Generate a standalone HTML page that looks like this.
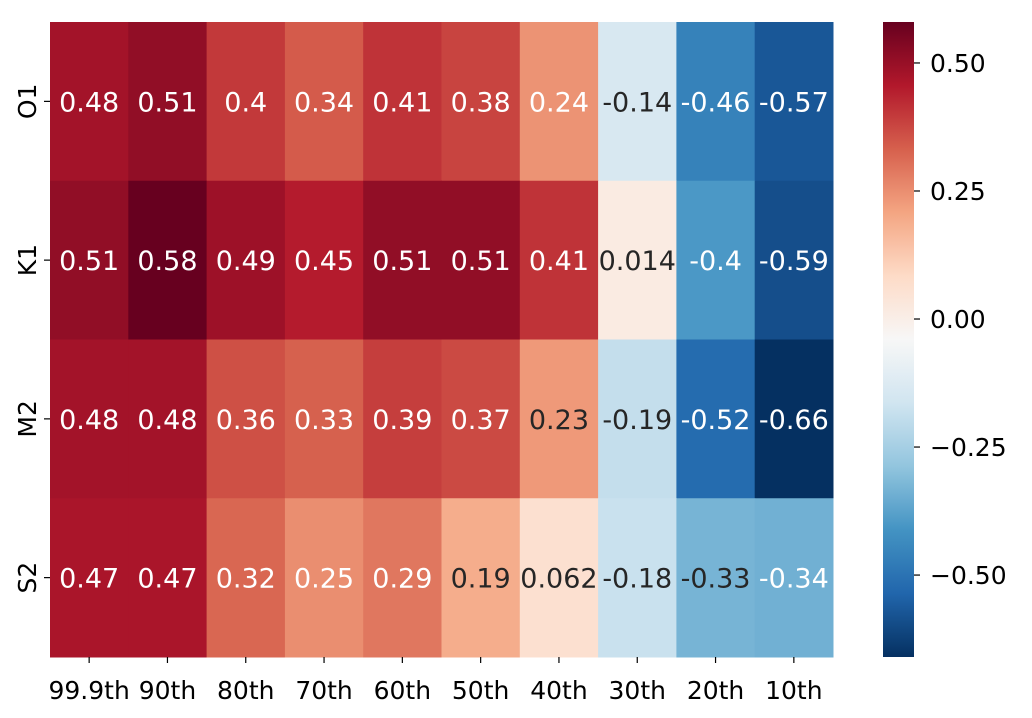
<!DOCTYPE html>
<html><head><meta charset="utf-8"><style>
body{margin:0;background:#fff;}
svg{display:block;font-family:"DejaVu Sans","Liberation Sans",sans-serif;}
</style></head><body>
<svg id="chart" width="1032" height="718" viewBox="0 0 1032 718" xmlns="http://www.w3.org/2000/svg">
<defs><linearGradient id="cbg" x1="0" y1="1" x2="0" y2="0"></linearGradient></defs>
<g id="cells"></g>
<g id="xticks"></g>
<g id="yticks"></g>
<g id="cbar"></g>
</svg>
<script>
const rowLabels = ["O1","K1","M2","S2"];
const colLabels = ["99.9th","90th","80th","70th","60th","50th","40th","30th","20th","10th"];
const rowO1 = [0.48,0.51,0.4,0.34,0.41,0.38,0.24,-0.14,-0.46,-0.57];
const rowK1 = [0.51,0.58,0.49,0.45,0.51,0.51,0.41,0.014,-0.4,-0.59];
const rowM2 = [0.48,0.48,0.36,0.33,0.39,0.37,0.23,-0.19,-0.52,-0.66];
const rowS2 = [0.47,0.47,0.32,0.25,0.29,0.19,0.062,-0.18,-0.33,-0.34];
const cbTicks = [0.5,0.25,0,-0.25,-0.5];
const cbTickLabels = ["0.50","0.25","0.00","\u22120.25","\u22120.50"];
const vmin = -0.66, vmax = 0.58;
const values = [rowO1,rowK1,rowM2,rowS2];

const stops = ["#053061","#2166ac","#4393c3","#92c5de","#d1e5f0","#f7f7f7","#fddbc7","#f4a582","#d6604d","#b2182b","#67001f"];
function hex(h){return [1,3,5].map(i=>parseInt(h.substr(i,2),16));}
function cmap(t){t=Math.max(0,Math.min(1,t));const p=t*10;const i=Math.min(9,Math.floor(p));const f=p-i;
 const a=hex(stops[i]),b=hex(stops[i+1]);return a.map((v,k)=>Math.round(v+(b[k]-v)*f));}
function colorOf(v){return cmap((v-vmin)/(vmax-vmin));}
function rgb(c){return `rgb(${c[0]},${c[1]},${c[2]})`;}
function lum(c){const l=c.map(x=>{x/=255;return x<=0.03928?x/12.92:Math.pow((x+0.055)/1.055,2.4);});return 0.2126*l[0]+0.7152*l[1]+0.0722*l[2];}

const L=50,R=833,T=22,B=657;
const cw=(R-L)/colLabels.length, rh=(B-T)/rowLabels.length;
const xPos=j=>L+j*cw, yPos=i=>T+i*rh;
const NS="http://www.w3.org/2000/svg";
function mk(tag,attrs,parent,text){const e=document.createElementNS(NS,tag);for(const k in attrs)e.setAttribute(k,attrs[k]);if(text!==undefined)e.textContent=text;parent.appendChild(e);return e;}

const cells=document.getElementById('cells');
values.forEach((row,i)=>row.forEach((v,j)=>{
 const c=colorOf(v);
 const r=mk('rect',{x:xPos(j),y:yPos(i),width:cw+0.5,height:rh+0.5,fill:rgb(c)},cells);
 
 
 const t=mk('text',{x:xPos(j)+cw/2,y:yPos(i)+rh/2+10,'text-anchor':'middle','font-size':'27',fill:lum(c)>0.408?'#262626':'#ffffff'},cells,String(v));
 
 
}));

const xt=document.getElementById('xticks');
colLabels.forEach((s,j)=>{
 mk('line',{x1:xPos(j)+cw/2,x2:xPos(j)+cw/2,y1:B,y2:B+6,stroke:'#000','stroke-width':1.2},xt);
 const t=mk('text',{x:xPos(j)+cw/2,y:699,'text-anchor':'middle','font-size':'25',fill:'#000'},xt,s);
 
 
});
const yt=document.getElementById('yticks');
rowLabels.forEach((s,i)=>{
 const y=yPos(i)+rh/2;
 mk('line',{x1:L-6,x2:L,y1:y,y2:y,stroke:'#000','stroke-width':1.2},yt);
 const t=mk('text',{x:0,y:0,transform:`translate(36 ${y}) rotate(-90)`,'text-anchor':'middle','font-size':'25',fill:'#000'},yt,s);
 
 
});

const cb=document.getElementById('cbar');
const CX=883,CW=31;
const cy=v=>B-(v-vmin)/(vmax-vmin)*(B-T);
const grad=document.getElementById('cbg');
for(let k=0;k<=40;k++){const v=vmin+(vmax-vmin)*k/40;mk('stop',{offset:(k/40),'stop-color':rgb(colorOf(v))},grad);}
const cr=mk('rect',{x:CX,y:T,width:CW,height:B-T,fill:'url(#cbg)'},cb);


cbTicks.forEach((v,k)=>{
 const y=cy(v);
 mk('line',{x1:CX+CW,x2:CX+CW+6,y1:y,y2:y,stroke:'#000','stroke-width':1.2},cb);
 const t=mk('text',{x:CX+CW+16,y:y+9,'font-size':'25',fill:'#000'},cb,cbTickLabels[k]);
 
 
});
</script>
</body></html>
